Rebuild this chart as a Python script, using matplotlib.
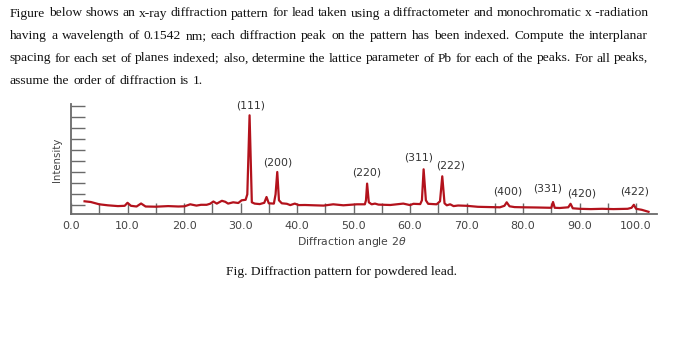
import matplotlib
matplotlib.use("Agg")
import matplotlib.pyplot as plt
import numpy as np

# diffraction pattern for powdered lead
two_theta = [2.4, 3.5, 5.0, 6.5, 8.3, 9.5, 10.0, 10.6, 11.6, 12.4, 13.2, 15.0, 17.2, 19.0,
             20.1, 21.1, 22.2, 23.0, 24.0, 24.6, 25.2, 25.8, 26.7, 27.3, 27.8, 28.7, 29.6,
             30.2, 30.9, 31.2, 31.6, 32.0, 32.5, 33.4, 34.2, 34.6, 35.0, 35.9, 36.2, 36.5,
             36.8, 37.3, 38.2, 38.8, 39.6, 40.3, 41.4, 43.0, 44.7, 46.4, 48.2, 50.6, 52.0,
             52.2, 52.4, 52.7, 53.2, 53.8, 54.4, 56.5, 58.8, 60.0, 60.6, 61.8, 62.1, 62.4,
             62.8, 63.2, 64.7, 65.3, 65.7, 66.1, 66.5, 67.1, 67.7, 68.5, 70.0, 72.0, 74.2,
             75.9, 76.7, 77.1, 77.6, 78.5, 80.0, 82.5, 85.0, 85.3, 85.6, 86.5, 88.0, 88.4,
             88.8, 90.0, 92.0, 94.0, 96.0, 98.5, 99.2, 99.6, 100.0, 101.0, 102.2]
intensity = [13.0, 12.3, 10.0, 9.0, 8.2, 8.5, 11.5, 8.5, 7.8, 10.8, 7.8, 7.6, 8.2, 7.8,
             8.0, 10.0, 8.7, 9.5, 9.5, 10.5, 12.8, 10.7, 13.5, 12.5, 10.7, 12.0, 11.3,
             14.0, 14.5, 20.0, 99.0, 12.0, 10.7, 10.2, 11.5, 17.3, 11.0, 10.7, 20.0, 42.3,
             14.0, 11.0, 10.5, 9.2, 10.7, 9.2, 9.3, 9.0, 8.7, 10.0, 9.0, 10.0, 10.0,
             14.0, 30.7, 12.0, 10.0, 10.7, 9.7, 9.3, 10.7, 9.2, 10.5, 10.2, 14.0, 45.0,
             14.0, 10.5, 10.0, 13.0, 38.0, 11.0, 9.0, 10.0, 8.2, 8.8, 8.5, 7.5, 7.2,
             7.0, 8.5, 12.0, 8.0, 7.2, 7.0, 6.8, 6.5, 12.3, 6.5, 6.3, 7.0, 10.5,
             6.0, 5.5, 5.2, 5.5, 5.2, 5.5, 6.5, 9.5, 5.5, 4.5, 2.5]

# peak index labels and where they sit
peak_labels = ["(111)", "(200)", "(220)", "(311)", "(222)", "(400)", "(331)", "(420)", "(422)"]
label_x = [31.7, 36.5, 52.4, 61.6, 67.2, 77.2, 84.4, 90.4, 99.7]
label_y = [109.0, 51.5, 41.7, 56.7, 48.3, 23.3, 25.7, 21.3, 22.3]

xtick_vals = [0, 10, 20, 30, 40, 50, 60, 70, 80, 90, 100]
xtick_text = ["0.0", "10.0", "20.0", "30.0", "40.0", "50.0", "60.0", "70.0", "80.0", "90.0", "100.0"]

para_lines = [
    "Figure below shows an x-ray diffraction pattern for lead taken using a diffractometer and monochromatic x\u00a0-radiation",
    "having a wavelength of 0.1542 nm; each diffraction peak on the pattern has been indexed. Compute the interplanar",
    "spacing for each set of planes indexed; also, determine the lattice parameter of Pb for each of the peaks. For all peaks,",
    "assume the order of diffraction is 1.",
]
caption = "Fig. Diffraction pattern for powdered lead."

W, H = 693, 350
fig = plt.figure(figsize=(W / 100, H / 100), dpi=100)
plt.rcParams["mathtext.fontset"] = "dejavusans"

SERIF = "Liberation Serif"
PARA_SIZE = 9.7


def fx(px):
    return px / W


def fy(py):
    return 1 - py / H


# justified paragraph, word by word
renderer = fig.canvas.get_renderer()
left_px, right_px = 10, 648
line_y = [13.5, 36, 58.5, 80.5]
for i, line in enumerate(para_lines):
    words = line.split(" ")
    texts = [fig.text(0, fy(line_y[i]), w, family=SERIF, fontsize=PARA_SIZE, va="center",
                      color="#111111") for w in words]
    widths = [t.get_window_extent(renderer).width for t in texts]
    last = i == len(para_lines) - 1
    if last:
        gap = PARA_SIZE * 0.25 * 100 / 72
    else:
        gap = (right_px - left_px - sum(widths)) / (len(words) - 1)
    x = left_px
    for t, w in zip(texts, widths):
        t.set_x(fx(x))
        x += w + gap

fig.text(fx(341), fy(272), caption, family=SERIF, fontsize=PARA_SIZE, ha="center", va="center",
         color="#111111")

# chart area
ax = fig.add_axes([fx(71), fy(214.3), fx(657) - fx(71), 110 / H])
ax.plot(two_theta, intensity, color="#b3121c", lw=1.6, solid_joinstyle="round")
ax.set_xlim(0, 103.7)
ax.set_ylim(0, 110)

axis_col = "#6a6a6a"
for s in ["top", "right"]:
    ax.spines[s].set_visible(False)
for s in ["left", "bottom"]:
    ax.spines[s].set_color(axis_col)
    ax.spines[s].set_linewidth(1.3)

ax.set_xticks(xtick_vals)
ax.set_xticklabels(xtick_text)
ax.set_xticks(np.arange(5, 100, 10), minor=True)
ax.tick_params(axis="x", which="both", direction="in", length=8, width=1.0, color=axis_col,
               labelsize=8, labelcolor="#444444", pad=4.5)
ax.set_yticks(np.linspace(9.7, 108.3, 10))
ax.set_yticklabels([])
ax.tick_params(axis="y", direction="in", length=10, width=1.0, color=axis_col)

for lab, lx, ly in zip(peak_labels, label_x, label_y):
    ax.text(lx, ly, lab, ha="center", va="center", fontsize=7.8, color="#333333")

fig.text(fx(57), fy(160), "Intensity", rotation=90, ha="center", va="center", fontsize=7.3,
         color="#444444")
fig.text(fx(352), fy(242), "Diffraction angle 2$\\mathit{\\theta}$", ha="center", va="center",
         fontsize=7.8, color="#444444")

fig.savefig("out.png", dpi=100)
